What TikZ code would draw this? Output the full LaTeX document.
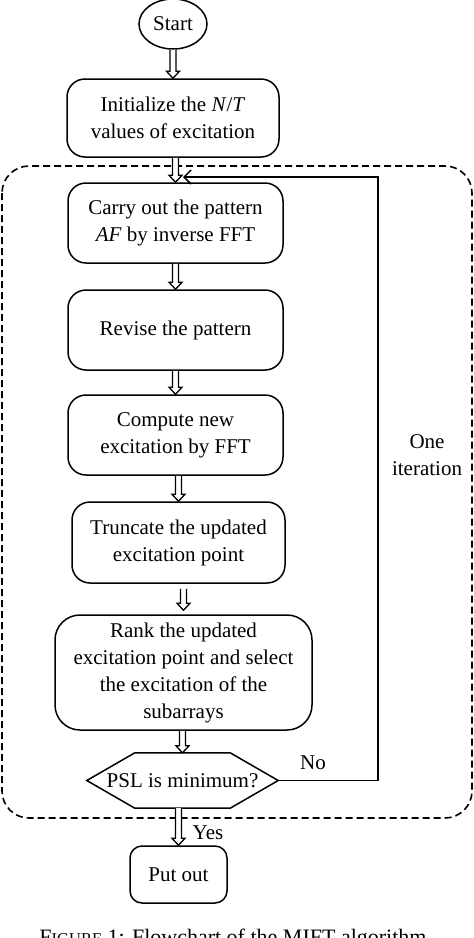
\documentclass[tikz,border=0pt]{standalone}
\usepackage{fontspec}
\setmainfont{Liberation Serif}
\usetikzlibrary{arrows.meta,shapes.geometric,calc}
\newcommand\hollowarrow[2]{%
  \draw[line width=1.3pt,fill=white] let \p1=(#1), \p2=(#2) in
    (\x2-3pt,\y1) -- (\x2-3pt,\y2+7pt) -- (\x2-6.5pt,\y2+7pt) -- (\x2,\y2)
    -- (\x2+6.5pt,\y2+7pt) -- (\x2+3pt,\y2+7pt) -- (\x2+3pt,\y1);}
\begin{document}
\begin{tikzpicture}[x=1pt,y=-1pt,
  every node/.style={font=\fontsize{21}{27}\selectfont},
  box/.style={draw,line width=1.5pt,rounded corners=18pt,align=center,inner sep=0pt},
  lbl/.style={align=center,inner sep=0pt},
  loopline/.style={line width=1.5pt},
]
\useasboundingbox (0,0) rectangle (474,938);
\clip (0,0) rectangle (474,938);

% dashed iteration frame
\draw[line width=1.6pt,dash pattern=on 7pt off 4pt,rounded corners=27pt] (2,166) rectangle (472,818);

\node[draw,ellipse,line width=1.5pt,minimum width=68pt,minimum height=50pt,inner sep=0pt] (start) at (173,24) {Start};
\node[box,minimum width=212pt,minimum height=78pt] (init) at (173,118) {Initialize the \textit{N}/\textit{T}\\values of excitation};
\node[box,minimum width=215pt,minimum height=80pt] (carry) at (175.5,223) {Carry out the pattern\\\textit{AF} by inverse FFT};
\node[box,minimum width=215pt,minimum height=80pt] (revise) at (175.5,330) {Revise the pattern};
\node[box,minimum width=215pt,minimum height=80pt] (compute) at (175.5,435) {Compute new\\excitation by FFT};
\node[box,minimum width=213pt,minimum height=81pt] (trunc) at (178.5,542.5) {Truncate the updated\\excitation point};
\node[box,rounded corners=25pt,minimum width=257pt,minimum height=115pt] (rank) at (183.5,672.5) {Rank the updated\\excitation point and select\\the excitation of the\\subarrays};
\node[lbl,minimum width=191pt,minimum height=55pt] (psl) at (182.5,780.5) {PSL is minimum?};
\draw[line width=1.5pt] (psl.west) -- ([xshift=48pt]psl.north west) -- ([xshift=-48pt]psl.north east)
  -- (psl.east) -- ([xshift=-48pt]psl.south east) -- ([xshift=48pt]psl.south west) -- cycle;
\node[box,rounded corners=12pt,minimum width=97pt,minimum height=57pt] (out) at (178.5,874.5) {Put out};

% hollow arrows
\hollowarrow{start.south}{init.north}
\hollowarrow{init.south}{carry.north}
\hollowarrow{carry.south}{revise.north}
\hollowarrow{revise.south}{compute.north}
\hollowarrow{compute.south}{trunc.north}
\hollowarrow{$(trunc.south)+(0,5)$}{$(rank.north)+(0,-4)$}
\hollowarrow{rank.south}{psl.north}
\hollowarrow{psl.south}{out.north}

% feedback loop
\coordinate (fb1) at (378,780.5);
\coordinate (fb2) at (378,177);
\coordinate (fb3) at (183,177);
\draw[loopline,-{Straight Barb[length=7pt,width=14pt]}] (psl.east) -- (fb1) -- (fb2) -- (fb3);

\node[lbl] (no) at (313,763) {No};
\node[lbl] (yes) at (208,833) {Yes};
\node[lbl] (iter) at (427,455) {One\\iteration};

% caption (cut off at the bottom edge)
\node[anchor=base,inner sep=0pt,font=\fontsize{22}{26}\selectfont] (cap) at (233,944.5)
  {F{\fontsize{16.5}{20}\selectfont IGURE} 1: Flowchart of the MIFT algorithm};
\end{tikzpicture}
\end{document}
